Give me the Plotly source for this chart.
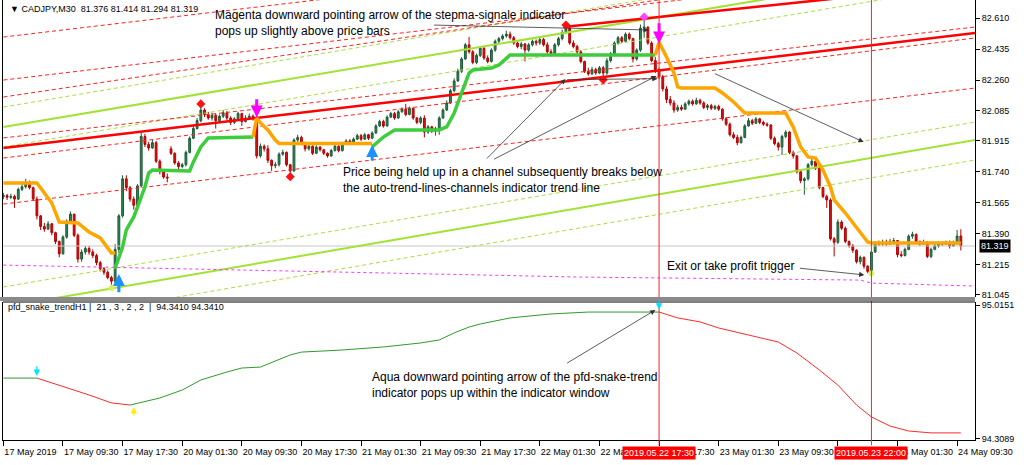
import plotly.graph_objects as go

# ---------------- data ----------------
HEADER = "\u25BC CADJPY,M30\u00a0\u00a081.376 81.414 81.294 81.319"
IND_TITLE = "pfd_snake_trendH1 | \u00a021 , 3 , 2 , 2 \u00a0| \u00a094.3410 94.3410"
LAST_PRICE = 81.319

TICK_BARS = [0, 16, 32, 48, 64, 80, 96, 112, 128, 144, 160, 176, 192, 208, 224, 240, 256]
TICK_LABELS = ["17 May 2019", "17 May 09:30", "17 May 17:30", "20 May 01:30", "20 May 09:30",
               "20 May 17:30", "21 May 01:30", "21 May 09:30", "21 May 17:30", "22 May 01:30",
               "22 May 09:30", "22 May 17:30", "23 May 01:30", "23 May 09:30", "23 May 17:30",
               "24 May 01:30", "24 May 09:30"]

PRICE_TICKS = [82.610, 82.435, 82.260, 82.085, 81.915, 81.740, 81.565, 81.390, 81.215, 81.045]
PRICE_RANGE = [81.030, 82.714]
IND_TICKS = [95.0151, 94.3089]
IND_RANGE = [94.3036, 95.031]

FIRST_OPEN = 81.600
GAP_OPEN_BAR = 45          # first bar after the weekend
GAP_OPEN_PRICE = 81.870

CLOSE = [
    81.605, 81.595, 81.600, 81.585, 81.640, 81.655, 81.675, 81.650, 81.585, 81.490,
    81.430, 81.415, 81.445, 81.395, 81.345, 81.275, 81.370, 81.460, 81.500, 81.380,
    81.245, 81.285, 81.305, 81.285, 81.265, 81.225, 81.190, 81.170, 81.140, 81.120,
    81.300, 81.490, 81.700, 81.650, 81.585, 81.550, 81.660, 81.940, 81.895, 81.875,
    81.905, 81.800, 81.740, 81.710, 81.705, 81.845, 81.790, 81.770, 81.780, 81.850,
    81.930, 81.985, 82.030, 82.090, 82.065, 82.045, 82.060, 82.030, 82.055, 82.075,
    82.045, 82.020, 82.040, 82.070, 82.025, 82.045, 82.055, 82.050, 81.830, 81.885,
    81.870, 81.805, 81.775, 81.780, 81.840, 81.850, 81.780, 81.745, 81.920, 81.935,
    81.900, 81.870, 81.885, 81.845, 81.880, 81.865, 81.845, 81.830, 81.860, 81.885,
    81.860, 81.900, 81.915, 81.905, 81.925, 81.945, 81.925, 81.950, 81.930, 81.960,
    82.000, 82.025, 82.000, 82.050, 82.070, 82.045, 82.080, 82.095, 82.065, 82.100,
    82.045, 82.020, 82.045, 81.965, 81.995, 81.970, 81.985, 82.045, 82.090, 82.130,
    82.200, 82.255, 82.310, 82.380, 82.460, 82.420, 82.360, 82.400, 82.440, 82.385,
    82.365, 82.430, 82.480, 82.495, 82.510, 82.520, 82.500, 82.470, 82.450, 82.465,
    82.430, 82.460, 82.480, 82.470, 82.490, 82.460, 82.420, 82.410, 82.460, 82.495,
    82.530, 82.555, 82.470, 82.450, 82.420, 82.365, 82.310, 82.295, 82.320, 82.300,
    82.330, 82.300, 82.370, 82.410, 82.470, 82.500, 82.480, 82.520, 82.495, 82.380,
    82.430, 82.555, 82.560, 82.470, 82.370, 82.320, 82.280, 82.210, 82.150, 82.130,
    82.090, 82.105, 82.095, 82.125, 82.140, 82.125, 82.145, 82.130, 82.105, 82.115,
    82.100, 82.110, 82.095, 82.040, 82.010, 81.950, 81.935, 81.905, 81.935, 82.000,
    82.030, 82.015, 82.040, 82.020, 82.010, 82.005, 81.930, 81.900, 81.880, 81.940,
    81.965, 81.850, 81.830, 81.740, 81.690, 81.700, 81.780, 81.800, 81.760, 81.650,
    81.600, 81.580, 81.360, 81.340, 81.455, 81.420, 81.345, 81.320, 81.295, 81.230,
    81.255, 81.205, 81.175, 81.285, 81.335, 81.330, 81.340, 81.330, 81.345, 81.350,
    81.270, 81.265, 81.300, 81.375, 81.385, 81.345, 81.330, 81.340, 81.260, 81.300,
    81.320, 81.335, 81.330, 81.340, 81.320, 81.340, 81.376, 81.319,
]
HIGH = [
    81.620, 81.615, 81.615, 81.610, 81.650, 81.680, 81.700, 81.690, 81.655, 81.600,
    81.495, 81.450, 81.460, 81.450, 81.400, 81.350, 81.380, 81.470, 81.515, 81.500,
    81.390, 81.300, 81.320, 81.320, 81.300, 81.275, 81.235, 81.200, 81.180, 81.150,
    81.330, 81.500, 81.720, 81.720, 81.660, 81.600, 81.670, 81.960, 81.955, 81.910,
    81.920, 81.915, 81.810, 81.750, 81.730, 81.885, 81.850, 81.800, 81.790, 81.860,
    81.940, 82.000, 82.045, 82.105, 82.100, 82.080, 82.075, 82.070, 82.065, 82.090,
    82.085, 82.055, 82.050, 82.080, 82.075, 82.060, 82.070, 82.065, 82.060, 81.900,
    81.895, 81.890, 81.810, 81.795, 81.850, 81.865, 81.855, 81.785, 81.930, 81.950,
    81.945, 81.910, 81.900, 81.890, 81.890, 81.885, 81.870, 81.850, 81.870, 81.895,
    81.890, 81.910, 81.925, 81.925, 81.935, 81.955, 81.955, 81.960, 81.955, 81.970,
    82.010, 82.035, 82.035, 82.060, 82.080, 82.080, 82.090, 82.105, 82.125, 82.110,
    82.105, 82.050, 82.055, 82.060, 82.005, 82.000, 81.995, 82.055, 82.100, 82.145,
    82.210, 82.270, 82.325, 82.390, 82.470, 82.505, 82.430, 82.410, 82.450, 82.450,
    82.400, 82.440, 82.490, 82.505, 82.520, 82.540, 82.535, 82.510, 82.480, 82.475,
    82.470, 82.470, 82.490, 82.490, 82.500, 82.500, 82.475, 82.435, 82.470, 82.505,
    82.545, 82.560, 82.560, 82.485, 82.460, 82.430, 82.370, 82.330, 82.335, 82.330,
    82.340, 82.340, 82.385, 82.420, 82.480, 82.510, 82.510, 82.530, 82.530, 82.500,
    82.440, 82.575, 82.595, 82.565, 82.480, 82.390, 82.330, 82.290, 82.225, 82.170,
    82.145, 82.120, 82.120, 82.135, 82.150, 82.150, 82.160, 82.155, 82.140, 82.125,
    82.125, 82.120, 82.120, 82.100, 82.050, 82.020, 81.965, 81.950, 81.945, 82.010,
    82.045, 82.040, 82.050, 82.045, 82.030, 82.020, 82.010, 81.940, 81.910, 81.950,
    81.975, 81.970, 81.860, 81.835, 81.745, 81.710, 81.790, 81.820, 81.810, 81.765,
    81.655, 81.610, 81.590, 81.370, 81.470, 81.465, 81.430, 81.350, 81.330, 81.300,
    81.265, 81.260, 81.210, 81.295, 81.345, 81.350, 81.355, 81.355, 81.360, 81.365,
    81.350, 81.290, 81.310, 81.385, 81.400, 81.390, 81.350, 81.355, 81.345, 81.310,
    81.330, 81.345, 81.345, 81.350, 81.350, 81.350, 81.410, 81.414,
]
LOW = [
    81.585, 81.580, 81.585, 81.535, 81.580, 81.630, 81.645, 81.640, 81.580, 81.470,
    81.410, 81.400, 81.410, 81.380, 81.330, 81.255, 81.270, 81.360, 81.450, 81.370,
    81.225, 81.230, 81.270, 81.270, 81.250, 81.210, 81.175, 81.155, 81.130, 81.100,
    81.110, 81.280, 81.480, 81.630, 81.570, 81.525, 81.540, 81.650, 81.880, 81.860,
    81.870, 81.790, 81.725, 81.700, 81.680, 81.835, 81.780, 81.755, 81.760, 81.770,
    81.845, 81.925, 81.980, 82.020, 82.050, 82.035, 82.030, 81.985, 82.020, 82.045,
    82.030, 82.005, 82.010, 82.030, 82.000, 82.020, 82.035, 82.030, 81.815, 81.820,
    81.855, 81.790, 81.745, 81.760, 81.770, 81.830, 81.770, 81.725, 81.740, 81.905,
    81.890, 81.855, 81.860, 81.835, 81.840, 81.855, 81.835, 81.820, 81.825, 81.855,
    81.850, 81.855, 81.895, 81.895, 81.900, 81.920, 81.915, 81.920, 81.920, 81.925,
    81.955, 81.995, 81.990, 81.995, 82.045, 82.035, 82.040, 82.075, 82.055, 82.060,
    82.035, 82.010, 82.010, 81.935, 81.955, 81.960, 81.945, 81.950, 82.040, 82.085,
    82.125, 82.190, 82.250, 82.300, 82.375, 82.410, 82.350, 82.350, 82.390, 82.375,
    82.355, 82.360, 82.420, 82.470, 82.485, 82.500, 82.490, 82.460, 82.440, 82.435,
    82.365, 82.420, 82.450, 82.455, 82.460, 82.450, 82.410, 82.395, 82.400, 82.450,
    82.485, 82.520, 82.460, 82.440, 82.410, 82.355, 82.300, 82.285, 82.290, 82.290,
    82.295, 82.275, 82.290, 82.360, 82.400, 82.460, 82.470, 82.475, 82.485, 82.360,
    82.370, 82.420, 82.500, 82.460, 82.360, 82.300, 82.265, 82.195, 82.130, 82.115,
    82.075, 82.080, 82.085, 82.090, 82.115, 82.115, 82.120, 82.120, 82.095, 82.090,
    82.090, 82.090, 82.085, 82.030, 82.000, 81.940, 81.925, 81.890, 81.900, 81.930,
    81.995, 82.005, 82.010, 82.010, 82.000, 81.995, 81.920, 81.890, 81.860, 81.835,
    81.930, 81.840, 81.815, 81.730, 81.675, 81.610, 81.690, 81.770, 81.750, 81.640,
    81.590, 81.535, 81.350, 81.260, 81.330, 81.410, 81.335, 81.310, 81.280, 81.220,
    81.215, 81.190, 81.165, 81.165, 81.280, 81.320, 81.320, 81.320, 81.325, 81.330,
    81.255, 81.255, 81.260, 81.295, 81.360, 81.335, 81.320, 81.325, 81.250, 81.250,
    81.295, 81.310, 81.320, 81.325, 81.305, 81.315, 81.325, 81.294,
]

# stepma-signale line (vertices: bar, price); colour switches orange/green
STEP_SEGMENTS = [
    ("orange", [0, 9, 13, 15, 20, 23, 26, 29, 30],
     [81.677, 81.677, 81.563, 81.455, 81.450, 81.399, 81.365, 81.280, 81.280]),
    ("green", [30, 32, 33, 35, 36, 38, 39, 40, 50, 51, 53, 55, 67],
     [81.194, 81.313, 81.410, 81.484, 81.540, 81.654, 81.733, 81.750, 81.745, 81.796, 81.881, 81.932, 81.937]),
    ("orange", [67, 68, 69, 71, 73, 74, 99],
     [81.937, 82.045, 82.017, 81.977, 81.920, 81.900, 81.900]),
    ("green", [99, 102, 105, 117, 119, 121, 123, 125, 126, 131, 133, 136, 175],
     [81.881, 81.937, 81.977, 81.977, 81.994, 82.073, 82.187, 82.300, 82.317, 82.328, 82.345, 82.402, 82.402]),
    ("orange", [175, 176, 178, 180, 181, 182, 191, 193, 196, 199, 210, 212, 214, 216, 218, 220, 222, 223,
                226, 228, 230, 232, 233, 257],
     [82.402, 82.476, 82.391, 82.300, 82.221, 82.215, 82.215, 82.187, 82.136, 82.073, 82.073, 81.994,
      81.881, 81.824, 81.818, 81.750, 81.654, 81.580, 81.506, 81.450, 81.398, 81.342, 81.336, 81.336]),
]

# pfd_snake_trend indicator (vertices: bar, value)
IND_SEGMENTS = [
    ("green", [0, 9], [94.630, 94.630]),
    ("red", [9, 15, 23, 29, 34], [94.630, 94.593, 94.541, 94.499, 94.488]),
    ("green", [34, 42, 48, 53, 60, 64, 69, 77, 80, 91, 102, 112, 117, 121, 125, 128, 136, 147, 157, 176],
     [94.488, 94.525, 94.567, 94.620, 94.662, 94.683, 94.688, 94.752, 94.767, 94.778, 94.794, 94.815,
      94.831, 94.868, 94.899, 94.915, 94.947, 94.968, 94.978, 94.978]),
    ("red", [176, 181, 187, 192, 200, 208, 213, 219, 224, 229, 233, 238, 243, 249, 257],
     [94.978, 94.947, 94.926, 94.894, 94.857, 94.820, 94.762, 94.673, 94.593, 94.488, 94.425, 94.377,
      94.351, 94.341, 94.341]),
]

# auto-trend-lines-channels: [bar0, price0, bar1, price1]
RED_THICK_LINES = [[0, 81.875, 260.9, 82.527], [150.3, 82.561, 260.9, 82.805]]
RED_DASH_LINES = [[0, 82.504, 260.9, 83.156], [0, 82.260, 260.9, 82.912], [0, 82.164, 260.9, 82.981],
                  [0, 81.932, 260.9, 82.561], [0, 81.818, 260.9, 82.499], [0, 81.557, 260.9, 82.215]]
GREEN_SOLID_LINES = [[0, 81.994, 260.9, 82.918], [0, 80.973, 260.9, 81.920]]
GREEN_DASH_LINES = [[0, 82.107, 260.9, 83.032], [0, 81.881, 260.9, 82.805],
                    [0, 81.087, 260.9, 82.022], [0, 80.860, 260.9, 81.807]]
MAGENTA_LINE_BARS = [0, 66, 155, 230, 233, 261]
MAGENTA_LINE_PRICES = [81.211, 81.183, 81.143, 81.126, 81.109, 81.092]

# point markers
RED_DIAMOND_BARS = [53, 77, 151, 161]
RED_DIAMOND_PRICES = [82.125, 81.712, 82.572, 82.262]
MAGENTA_DIAMOND_BARS = [172]
MAGENTA_DIAMOND_PRICES = [82.618]
YELLOW_DOT_BARS = [29, 233]
YELLOW_DOT_PRICES = [81.081, 81.165]

# signal arrows: (bar, tip, tail)
MAGENTA_ARROWS = [(68, 82.048, 82.160), (176, 82.468, 82.590)]
BLUE_ARROWS = [(31, 81.160, 81.048), (99, 81.892, 81.795)]
AQUA_ARROWS = [(9, 94.641, 94.700), (176, 94.990, 95.045)]
YELLOW_ARROWS = [(35, 94.478, 94.425)]

# event lines
VLINE_BARS = [176, 233]
VLINE_LABELS = ["2019.05.22 17:30", "2019.05.23 22:00"]

# callout arrows: (tail bar, tail value, tip bar, tip value, axis)
CALLOUT_ARROWS = [
    (115.2, 82.572, 173.2, 82.544, "y"),
    (129.4, 81.807, 150.9, 82.266, "y"),
    (131.3, 81.807, 175.3, 82.283, "y"),
    (150.9, 82.262, 175.6, 82.268, "y"),
    (190.6, 82.300, 230.9, 81.909, "y"),
    (213.4, 81.194, 231.1, 81.155, "y"),
    (150.9, 94.704, 175.0, 94.989, "y2"),
]

# ---------------- figure ----------------
OPEN = [FIRST_OPEN] + CLOSE[:-1]
OPEN[GAP_OPEN_BAR] = GAP_OPEN_PRICE
BARS = list(range(len(CLOSE)))
HIGH_ = [max(h, o, c) for h, o, c in zip(HIGH, OPEN, CLOSE)]
LOW_ = [min(l, o, c) for l, o, c in zip(LOW, OPEN, CLOSE)]

FONT = "Liberation Sans, Arial, sans-serif"
fig = go.Figure()

# bid line
fig.add_trace(go.Scatter(x=[-2, 262], y=[LAST_PRICE, LAST_PRICE], mode="lines",
                         line=dict(color="#c8c8c8", width=1), xaxis="x", yaxis="y"))

fig.add_trace(go.Candlestick(
    x=BARS, open=OPEN, high=HIGH_, low=LOW_, close=CLOSE, xaxis="x", yaxis="y",
    increasing=dict(fillcolor="#2e8b57", line=dict(color="#1d5a38", width=1)),
    decreasing=dict(fillcolor="#d41414", line=dict(color="#b40000", width=1)),
    whiskerwidth=0))

def seg(line, color, width, dash=None):
    b0, p0, b1, p1 = line
    fig.add_trace(go.Scatter(x=[b0, b1], y=[p0, p1], mode="lines", xaxis="x", yaxis="y",
                             line=dict(color=color, width=width, dash=dash)))

for ln in GREEN_DASH_LINES:
    seg(ln, "#a6e03a", 1, "4px,3px")
for ln in GREEN_SOLID_LINES:
    seg(ln, "#a2e232", 2)
for ln in RED_DASH_LINES:
    seg(ln, "#ff2020", 1, "4px,3px")
for ln in RED_THICK_LINES:
    seg(ln, "#ff0000", 2.5)

fig.add_trace(go.Scatter(x=MAGENTA_LINE_BARS, y=MAGENTA_LINE_PRICES, mode="lines", xaxis="x", yaxis="y",
                         line=dict(color="#ff33ff", width=1, dash="3px,3px")))

STEP_COLORS = {"orange": "#ffa500", "green": "#3ccc3c"}
for col, xs, ys in STEP_SEGMENTS:
    fig.add_trace(go.Scatter(x=xs, y=ys, mode="lines", xaxis="x", yaxis="y",
                             line=dict(color=STEP_COLORS[col], width=3.5)))

IND_COLORS = {"green": "#2f9a2f", "red": "#ff2a2a"}
for col, xs, ys in IND_SEGMENTS:
    fig.add_trace(go.Scatter(x=xs, y=ys, mode="lines", xaxis="x", yaxis="y2",
                             line=dict(color=IND_COLORS[col], width=1)))

fig.add_trace(go.Scatter(x=RED_DIAMOND_BARS, y=RED_DIAMOND_PRICES, mode="markers", xaxis="x", yaxis="y",
                         marker=dict(symbol="diamond", size=7, color="#ff1010")))
fig.add_trace(go.Scatter(x=MAGENTA_DIAMOND_BARS, y=MAGENTA_DIAMOND_PRICES, mode="markers", xaxis="x", yaxis="y",
                         marker=dict(symbol="diamond", size=7, color="#ff44ff")))
fig.add_trace(go.Scatter(x=YELLOW_DOT_BARS, y=YELLOW_DOT_PRICES, mode="markers", xaxis="x", yaxis="y",
                         marker=dict(symbol="circle", size=6, color="#d8f060")))

ann = []

def sig_arrow(b, tip, tail, color, yref, width, size):
    ann.append(dict(x=b, y=tip, ax=b, ay=tail, xref="x", yref=yref, axref="x", ayref=yref,
                    text="", showarrow=True, arrowhead=2, arrowsize=size, arrowwidth=width,
                    arrowcolor=color))

for b, tip, tail in MAGENTA_ARROWS:
    sig_arrow(b, tip, tail, "#ff00ff", "y", 3, 0.8)
for b, tip, tail in BLUE_ARROWS:
    sig_arrow(b, tip, tail, "#1e90ff", "y", 3, 0.8)
for b, tip, tail in AQUA_ARROWS:
    sig_arrow(b, tip, tail, "#00e5ff", "y2", 1.3, 1.0)
for b, tip, tail in YELLOW_ARROWS:
    sig_arrow(b, tip, tail, "#ffee00", "y2", 1.3, 1.0)

for tb, tv, hb, hv, yr in CALLOUT_ARROWS:
    ann.append(dict(x=hb, y=hv, ax=tb, ay=tv, xref="x", yref=yr, axref="x", ayref=yr, text="",
                    showarrow=True, arrowhead=2, arrowsize=1.3, arrowwidth=0.8, arrowcolor="#333333"))

TXT = dict(family=FONT, size=12, color="#000000")
ann.append(dict(x=56.4, y=82.582, xref="x", yref="y", xanchor="left", yanchor="middle", align="left",
                showarrow=False, font=TXT,
                text="Magenta downward pointing arrow of the stepma-signale indicator<br>"
                     "pops up slightly above price bars"))
ann.append(dict(x=90.5, y=81.696, xref="x", yref="y", xanchor="left", yanchor="middle", align="left",
                showarrow=False, font=TXT,
                text="Price being held up in a channel subsequently breaks below<br>"
                     "the auto-trend-lines-channels indicator trend line"))
ann.append(dict(x=177.7, y=81.206, xref="x", yref="y", xanchor="left", yanchor="middle", align="left",
                showarrow=False, font=TXT, text="Exit or take profit trigger"))
ann.append(dict(x=98.3, y=94.596, xref="x", yref="y2", xanchor="left", yanchor="middle", align="left",
                showarrow=False, font=TXT,
                text="Aqua downward pointing arrow of the pfd-snake-trend<br>"
                     "indicator pops up within the indicator window"))

SMALL = dict(family=FONT, size=9, color="#000000")
ann.append(dict(x=0.005, y=0.98, xref="paper", yref="paper", xanchor="left", yanchor="middle",
                showarrow=False, font=SMALL, text=HEADER))
ann.append(dict(x=0.003, y=0.302, xref="paper", yref="paper", xanchor="left", yanchor="middle",
                showarrow=False, font=SMALL, text=IND_TITLE))
ann.append(dict(x=1.004, y=LAST_PRICE, xref="paper", yref="y", xanchor="left", yanchor="middle",
                showarrow=False, text=f"{LAST_PRICE:.3f}", bgcolor="#000000", borderpad=1,
                font=dict(family=FONT, size=9, color="#ffffff")))
for b, lab in zip(VLINE_BARS, VLINE_LABELS):
    ann.append(dict(x=b, y=-0.03, xref="x", yref="paper", xanchor="center", yanchor="middle",
                    showarrow=False, text=lab, bgcolor="#ff0000", borderpad=1,
                    font=dict(family=FONT, size=9, color="#ffffff")))

shapes = []
for b in VLINE_BARS:
    shapes.append(dict(type="line", xref="x", yref="paper", x0=b, x1=b, y0=-0.012, y1=1,
                       line=dict(color="#ff2020", width=1)))
MAIN_BOTTOM = 143 / 440
IND_TOP = 138 / 440
shapes.append(dict(type="rect", xref="paper", yref="paper", x0=-0.003, x1=1.0, y0=139 / 440, y1=MAIN_BOTTOM,
                   fillcolor="#8a8a8a", line=dict(width=0), layer="above"))
shapes.append(dict(type="line", xref="paper", yref="paper", x0=0, x1=1, y0=IND_TOP, y1=IND_TOP,
                   line=dict(color="#000000", width=1)))

AX = dict(showgrid=False, zeroline=False, showline=True, linecolor="#000000", linewidth=1,
          ticks="outside", ticklen=4, tickcolor="#000000", tickfont=SMALL, fixedrange=True,
          automargin=False)

fig.update_layout(
    width=1024, height=465, margin=dict(l=3, r=49, t=0, b=25, autoexpand=False),
    paper_bgcolor="#ffffff", plot_bgcolor="#ffffff", showlegend=False, hovermode=False,
    xaxis=dict(AX, anchor="y2", range=[-0.1, 260.8], tickvals=TICK_BARS, ticktext=TICK_LABELS,
               ticklabelposition="outside right", tickangle=0, ticklen=5, ticklabelstandoff=3,
               rangeslider=dict(visible=False)),
    yaxis=dict(AX, domain=[MAIN_BOTTOM, 1], side="right", anchor="x", mirror=True, range=PRICE_RANGE,
               tickvals=PRICE_TICKS, ticktext=[f"{v:.3f}" for v in PRICE_TICKS]),
    yaxis2=dict(AX, domain=[0, IND_TOP], side="right", anchor="x", mirror=True, range=IND_RANGE,
                tickvals=IND_TICKS, ticktext=[f"{v:.4f}" for v in IND_TICKS]),
    annotations=ann, shapes=shapes,
)

fig.write_html("out.html", config={"displayModeBar": False, "staticPlot": True},
               post_script="document.body.style.margin='0';document.body.style.overflow='hidden';")
